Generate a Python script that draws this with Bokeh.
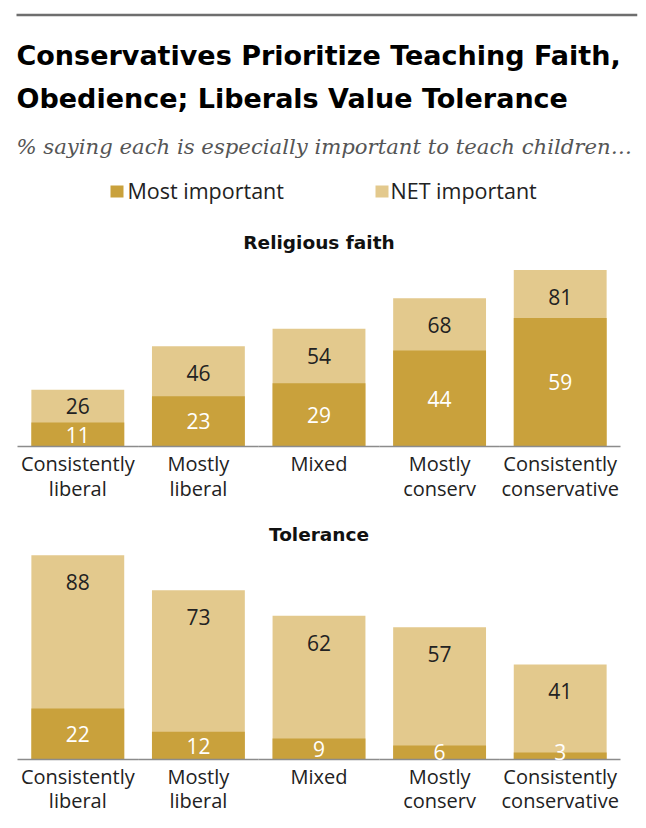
from bokeh.plotting import figure
from bokeh.models import Range1d, FactorRange, ColumnDataSource
from bokeh.transform import dodge
from bokeh.layouts import column
from bokeh.embed import file_html
from bokeh.resources import INLINE
from bokeh.core.properties import value

# ---------------- data ----------------
categories = ["Consistently liberal", "Mostly liberal", "Mixed",
              "Mostly conserv", "Consistently conservative"]
label_line1 = ["Consistently", "Mostly", "Mixed", "Mostly", "Consistently"]
label_line2 = ["liberal", "liberal", "", "conserv", "conservative"]
faith_most = [11, 23, 29, 44, 59]
faith_net = [26, 46, 54, 68, 81]
tol_most = [22, 12, 9, 6, 3]
tol_net = [88, 73, 62, 57, 41]
series_names = ["Most important", "NET important"]
panel_titles = ["Religious faith", "Tolerance"]
title_lines = ["Conservatives Prioritize Teaching Faith,",
               "Obedience; Liberals Value Tolerance"]
subtitle = "% saying each is especially important to teach children\u2026"

DARK = "#C9A13C"
LIGHT = "#E3C98D"
SANS = "Open Sans"
BOLD = "DejaVu Sans"
W = 646
RB = 9            # right border (frame spans 0..637)
FW = W - RB
CELL = 120.6      # px per category


def clean(p):
    p.outline_line_color = None
    p.grid.visible = False
    p.background_fill_color = "white"
    p.border_fill_color = "white"


# ---------------- header ----------------
H0 = 210
hdr = figure(width=W, height=H0, x_range=Range1d(0, FW), y_range=Range1d(H0, 0),
             output_backend="svg", toolbar_location=None,
             x_axis_location=None, y_axis_location=None,
             min_border_left=0, min_border_right=RB, min_border_top=0, min_border_bottom=0)
clean(hdr)
hdr.segment(x0=[16], y0=[14.5], x1=[FW], y1=[14.5], line_color="#6e6e6e", line_width=2.5)
hdr.text(x=[16, 16], y=[55, 98], text=title_lines, text_font=value(BOLD),
         text_font_style="bold", text_font_size="27px", text_color="#000000",
         text_baseline="alphabetic")
hdr.text(x=[16], y=[145.5], text=[subtitle], text_font=value("DejaVu Serif"),
         text_font_style="italic", text_font_size="21.2px", text_color="#555555",
         text_baseline="alphabetic")
# legend
hdr.rect(x=[116.5, 381.5], y=[191, 191], width=13, height=12,
         fill_color=[DARK, LIGHT], line_color=None)
hdr.text(x=[127, 390], y=[190, 190], text=series_names, text_font=value(SANS),
         text_font_size="21.5px", text_color="#222222", text_baseline="alphabetic")


# ---------------- charts ----------------
def chart(title, most, net, top_border, frame_h, below_px, scale, standoff, offs):
    height = top_border + frame_h
    y_end = (frame_h - below_px) / scale
    y_start = -below_px / scale
    pad = 17 / CELL
    p = figure(width=W, height=height,
               x_range=FactorRange(factors=categories, range_padding=pad,
                                   range_padding_units="absolute"),
               y_range=Range1d(y_start, y_end),
               output_backend="svg", toolbar_location=None,
               x_axis_location=None, y_axis_location=None,
               min_border_left=0, min_border_right=RB,
               min_border_top=top_border, min_border_bottom=0)
    clean(p)
    net_y = [n - 27 / scale if (n - m) * scale > 36 else (n + m) / 2
             for n, m in zip(net, most)]
    most_y = [max(m / 2, 8 / scale) for m in most]
    src = ColumnDataSource(dict(cat=categories, most=most, net=net,
                                net_y=net_y, most_y=most_y,
                                net_t=[str(v) for v in net],
                                most_t=[str(v) for v in most],
                                l1=label_line1, l2=label_line2,
                                zero=[0] * len(categories)))
    p.vbar(x="cat", top="net", width=0.77, source=src, fill_color=LIGHT, line_color=None)
    p.vbar(x="cat", top="most", width=0.77, source=src, fill_color=DARK, line_color=None)
    # baseline (axis line) spanning each category cell
    p.segment(x0=dodge("cat", -0.5, range=p.x_range), x1=dodge("cat", 0.5, range=p.x_range),
              y0="zero", y1="zero", source=src, line_color="#8c8c8c", line_width=1.5)
    p.text(x="cat", y="net_y", text="net_t", source=src, text_align="center",
           text_baseline="alphabetic", text_font=value(SANS),
           text_font_size="21px", text_color="#222222")
    p.text(x="cat", y="most_y", text="most_t", source=src, text_align="center",
           text_baseline="alphabetic", text_font=value(SANS),
           text_font_size="21px", text_color="#ffffff")
    for col, off in zip(("l1", "l2"), offs):
        p.text(x="cat", y="zero", text=col, source=src, text_align="center",
               text_baseline="alphabetic", y_offset=off, text_font=value(SANS),
               text_font_size="20px", text_color="#222222")
    p.title.text = title
    p.title.align = "center"
    p.title.text_font = BOLD
    p.title.text_font_style = "bold"
    p.title.text_font_size = "18.5px"
    p.title.text_color = "#111111"
    p.title.standoff = standoff
    return p


# chart 1: figure 210..510, frame top 262, baseline 446
c1 = chart(panel_titles[0], faith_most, faith_net, 52, 248, 64, 2.18, 19, (16.5, 41.5))
# chart 2: figure 510..828, frame top 550, baseline 759
c2 = chart(panel_titles[1], tol_most, tol_net, 40, 278, 69, 2.32, 10.5, (16.5, 41))

layout = column(hdr, c1, c2, spacing=0)
open("out.html", "w").write(file_html(layout, INLINE))
